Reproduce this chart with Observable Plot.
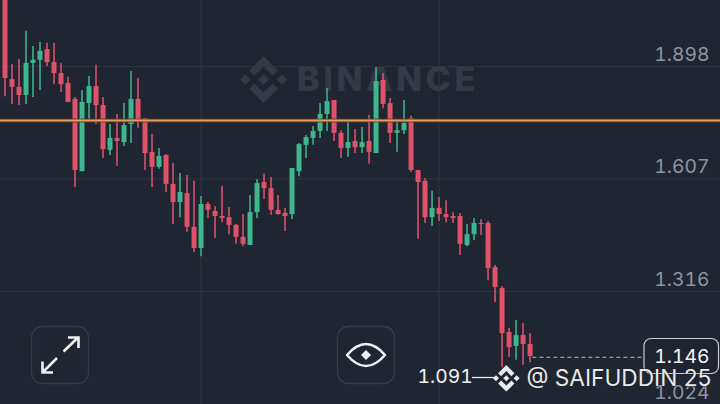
<!DOCTYPE html>
<html>
<head>
<meta charset="utf-8">
<script src="https://cdn.jsdelivr.net/npm/d3@7"></script>
<script src="https://cdn.jsdelivr.net/npm/@observablehq/plot@0.6"></script>
<style>
html,body{margin:0;padding:0;background:#1f2631;overflow:hidden}
svg{display:block}
</style>
</head>
<body>
<div id="chart"></div>
<script>
const opens = [2.082,1.864,1.844,1.823,1.906,1.914,1.942,1.908,1.880,1.854,1.813,1.626,1.802,1.846,1.797,1.681,1.712,1.701,1.748,1.813,1.763,1.676,1.637,1.668,1.593,1.546,1.569,1.482,1.427,1.541,1.523,1.510,1.507,1.487,1.456,1.435,1.520,1.598,1.582,1.526,1.518,1.515,1.626,1.694,1.712,1.730,1.774,1.810,1.725,1.686,1.704,1.688,1.704,1.673,1.862,1.802,1.725,1.732,1.763,1.629,1.601,1.507,1.531,1.515,1.510,1.510,1.435,1.463,1.492,1.492,1.378,1.324,1.210,1.174,1.202,1.179];
const closes = [1.867,1.844,1.823,1.906,1.914,1.937,1.908,1.880,1.851,1.805,1.629,1.805,1.846,1.797,1.683,1.712,1.704,1.745,1.813,1.758,1.673,1.637,1.665,1.593,1.546,1.572,1.482,1.427,1.541,1.526,1.510,1.505,1.487,1.456,1.438,1.520,1.595,1.582,1.526,1.515,1.510,1.634,1.696,1.714,1.730,1.774,1.807,1.725,1.686,1.701,1.688,1.701,1.676,1.859,1.800,1.725,1.732,1.751,1.629,1.598,1.507,1.531,1.515,1.507,1.505,1.438,1.463,1.492,1.489,1.375,1.326,1.207,1.171,1.202,1.179,1.148];
const highs = [2.082,1.903,1.916,1.989,1.950,1.960,1.958,1.958,1.906,1.870,1.818,1.836,1.872,1.901,1.818,1.748,1.774,1.802,1.885,1.867,1.763,1.722,1.686,1.670,1.647,1.621,1.616,1.601,1.562,1.546,1.536,1.588,1.533,1.489,1.515,1.564,1.606,1.619,1.611,1.564,1.531,1.634,1.699,1.720,1.743,1.802,1.841,1.810,1.732,1.756,1.735,1.740,1.771,1.895,1.880,1.815,1.756,1.810,1.769,1.629,1.608,1.575,1.559,1.551,1.520,1.518,1.489,1.505,1.502,1.497,1.383,1.329,1.220,1.241,1.233,1.207];
const lows = [1.820,1.800,1.797,1.800,1.818,1.836,1.898,1.851,1.831,1.805,1.585,1.626,1.761,1.748,1.660,1.668,1.639,1.691,1.699,1.738,1.629,1.585,1.632,1.572,1.489,1.507,1.469,1.417,1.406,1.505,1.453,1.494,1.463,1.438,1.432,1.435,1.505,1.554,1.513,1.513,1.471,1.502,1.613,1.660,1.694,1.712,1.730,1.704,1.660,1.663,1.673,1.673,1.645,1.673,1.789,1.699,1.676,1.722,1.624,1.451,1.492,1.484,1.497,1.494,1.492,1.409,1.432,1.448,1.461,1.344,1.287,1.119,1.145,1.138,1.125,1.132];
const priceTicks = [1.898, 1.607, 1.316, 1.024];
const gridPrices = [1.898, 1.607, 1.316];
const gridCandles = [28, 62];
const resistance = 1.758;
const lastPrice = 1.146;
const lowMark = 1.091;

const candles = opens.map((o, i) => ({i, o, c: closes[i], h: highs[i], l: lows[i]}));
const RED = "#df5269", GREEN = "#3fb68b", BG = "#1f2631";
const LOGO = "M38.73 53.2l24.59-24.58 24.6 24.6 14.3-14.31L63.32 0 24.43 38.9zM0 63.31l14.3-14.31 14.31 14.31-14.31 14.3zM38.73 73.41l24.59 24.59 24.6-24.6 14.31 14.29-38.9 38.91-38.91-38.88-.02-.02zM98.28 63.31l14.3-14.31 14.31 14.31-14.31 14.3zM77.83 63.3L63.32 48.78 52.59 59.51l-1.24 1.23-2.54 2.54 14.51 14.5 14.51-14.47z";
const FONT = "Inter, 'Noto Sans', sans-serif";

function watermark() {
  const g = d3.create("svg:g");
  g.append("path").attr("d", LOGO).attr("fill", "#343a45")
    .attr("transform", "translate(240,56) scale(0.373)");
  g.append("text").text("BINANCE").attr("x", 297).attr("y", 91)
    .attr("text-anchor", "start")
    .attr("fill", "#343a45").attr("font-family", "Inter, sans-serif")
    .attr("font-weight", 800).attr("font-size", 34).attr("letter-spacing", 3.6);
  return g.node();
}
function chrome() {
  const g = d3.create("svg:g");
  for (const x of [31, 337]) {
    g.append("rect").attr("x", x + .5).attr("y", 326.5).attr("width", 57).attr("height", 57)
      .attr("rx", 11).attr("fill", "none").attr("stroke", "#353b47").attr("stroke-width", 1.3);
  }
  g.append("path").attr("fill", "none").attr("stroke", "#eef0f2").attr("stroke-width", 2.6)
    .attr("d", "M63.5 351.5L77.5 338M68 337.5H78.5V348M57 358L43 372M42.5 361.5V372.5H53");
  g.append("path").attr("fill", "none").attr("stroke", "#eef0f2").attr("stroke-width", 2.6)
    .attr("stroke-linejoin", "round")
    .attr("d", "M347 355Q366 333 385 355Q366 377 347 355Z");
  g.append("path").attr("fill", "#eef0f2").attr("d", "M366 350L371 355L366 360L361 355Z");
  g.append("rect").attr("x", 644).attr("y", 338.5).attr("width", 74.5).attr("height", 35)
    .attr("rx", 7).attr("fill", BG).attr("fill-opacity", .9).attr("stroke", "#c9ccd1").attr("stroke-width", 1.2);
  return g.node();
}
function signature() {
  const g = d3.create("svg:g");
  g.append("line").attr("x1", 472).attr("x2", 498).attr("y1", 377.5).attr("y2", 377.5)
    .attr("stroke", "#f0f0f0").attr("stroke-width", 1.2);
  g.append("path").attr("d", LOGO).attr("fill", "#ebebeb")
    .attr("transform", "translate(493,365) scale(0.21)");
  return g.node();
}

const chart = Plot.plot({
  width: 720, height: 404,
  margin: 0,
  style: {background: BG, fontFamily: FONT},
  x: {axis: null, type: "linear", domain: [-0.643, 102.2], range: [0, 720]},
  y: {axis: null, type: "linear", domain: [1.0237, 2.0687], range: [404, 0]},
  marks: [
    watermark,
    Plot.ruleY(gridPrices, {stroke: "#2f3641", strokeWidth: 1}),
    Plot.ruleX(gridCandles, {stroke: "#2f3641", strokeWidth: 1}),
    Plot.ruleX(candles, {x: "i", y1: "l", y2: "h", stroke: d => d.c >= d.o ? GREEN : RED, strokeWidth: 1.7, strokeOpacity: .9}),
    Plot.ruleX(candles, {x: "i", y1: "o", y2: "c", stroke: d => d.c >= d.o ? GREEN : RED, strokeWidth: 5}),
    Plot.ruleY([resistance], {stroke: "#5b3a28", strokeWidth: 4, strokeOpacity: .85}),
    Plot.ruleY([resistance], {stroke: "#e69a5e", strokeWidth: 2}),
    Plot.text(priceTicks, {y: d => d, text: d => d3.format(".3f")(d), frameAnchor: "right", textAnchor: "end", dx: -11, dy: -12, fill: "#8d95a0", fontSize: 19.3, fontVariant: "tabular-nums"}),
    Plot.ruleY([lastPrice], {x1: 75.4, x2: 91, stroke: "#b9bcc2", strokeWidth: 1.1, strokeDasharray: "4 3"}),
    chrome,
    Plot.text([lastPrice], {y: d => d, text: d => d3.format(".3f")(d), frameAnchor: "right", textAnchor: "end", dx: -11, fill: "#f4f5f6", fontSize: 19.3, fontVariant: "tabular-nums"}),
    Plot.text([lowMark], {y: d => d, text: d => d3.format(".3f")(d), frameAnchor: "left", textAnchor: "start", dx: 417, dy: -2, fill: "#f1f1f1", fontSize: 19.3, fontVariant: "tabular-nums"}),
    signature,
    Plot.text(["@ SAIFUDDIN 25"], {frameAnchor: "bottom-left", textAnchor: "start", lineAnchor: "middle", dx: 526, dy: -26, fill: "#e9e9e9", fontSize: 22.7, stroke: "#1b1f27", strokeWidth: 1.5, strokeOpacity: .6})
  ]
});
document.getElementById("chart").append(chart);
</script>
</body>
</html>
